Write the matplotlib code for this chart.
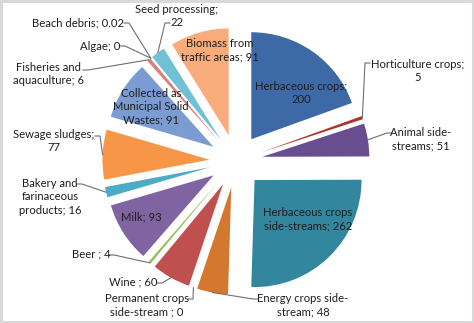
import numpy as np
import matplotlib
matplotlib.use("Agg")
import matplotlib.pyplot as plt
from matplotlib.patches import Rectangle

plt.rcParams['font.family'] = ['Lato', 'DejaVu Sans']

# ---------------------------
# DATA (clockwise from 12 o'clock)
# ---------------------------
sources = [
    "Herbaceous crops", "Horticulture crops", "Animal side-streams",
    "Herbaceous crops side-streams", "Energy crops side-stream",
    "Permanent crops side-stream", "Wine", "Beer", "Milk",
    "Bakery and farinaceous products", "Sewage sludges",
    "Collected as Municipal Solid Wastes", "Fisheries and aquaculture",
    "Algae", "Beach debris", "Seed processing", "Biomass from traffic areas",
]
amounts = [200, 5, 51, 262, 48, 0, 60, 4, 93, 16, 77, 91, 6, 0, 0.02, 22, 91]
labels = [
    "Herbaceous crops;\n200", "Horticulture crops;\n5", "Animal side-\nstreams; 51",
    "Herbaceous crops\nside-streams; 262", "Energy crops side-\nstream; 48",
    "Permanent crops\nside-stream ; 0", "Wine ; 60", "Beer ; 4", "Milk; 93",
    "Bakery and\nfarinaceous\nproducts; 16", "Sewage sludges;\n77",
    "Collected as\nMunicipal Solid\nWastes; 91", "Fisheries and\naquaculture; 6",
    "Algae; 0", "Beach debris; 0.02", "Seed processing;\n22",
    "Biomass from\ntraffic areas; 91",
]
colors = [
    "#3d6aa7", "#b0322e", "#684e8e", "#32869e", "#d4782f", "#4f81bd",
    "#c0504d", "#9bbb59", "#8064a2", "#4bacc6", "#f79646", "#7b9cd2",
    "#d7827e", "#b9d08a", "#a996c4", "#70c0d6", "#f9ac7b",
]

# ---------------------------
# LAYOUT (pixel coords, y from top)
# ---------------------------
W, H = 474, 323
pie_center = (236, 161)
pie_radius = 107
explode_dist = 26.6   # pie() takes explode in data units

# label centre, leader start (None = label inside slice)
label_pos = [
    (301, 93, None), (418, 71, (370, 63)), (421, 139, (392, 133)),
    (308, 219, None), (303, 305, (258, 299)), (147, 305, (188, 299)),
    (133, 282, (157, 283)), (91, 254, (109, 255)), (141, 217, None),
    (50, 197, (77, 184)), (54, 141, (95, 136)), (151, 107, None),
    (49, 74, (83, 70)), (100, 46, (120, 46)), (78, 23, (124, 23)),
    (177, 16, (170, 23)), (220, 50, None),
]


def to_data(x, y):
    return x, H - y


fig = plt.figure(figsize=(W / 100, H / 100), dpi=100)
ax = fig.add_axes([0, 0, 1, 1])

wedges, _ = ax.pie(
    amounts,
    explode=[explode_dist] * len(amounts),
    colors=colors,
    startangle=90,
    counterclock=False,
    radius=pie_radius,
    center=to_data(*pie_center),
    wedgeprops=dict(linewidth=0),
)

ax.set_xlim(0, W)
ax.set_ylim(0, H)
ax.axis('off')

for w, lab, (lx, ly, lead) in zip(wedges, labels, label_pos):
    ax.text(*to_data(lx, ly), lab, ha='center', va='center',
            fontsize=8.1, color='#1e1e1e', linespacing=1.25)
    if lead is None:
        continue
    mid = np.deg2rad((w.theta1 + w.theta2) / 2)
    cx, cy = w.center
    ex = cx + w.r * np.cos(mid)
    ey = cy + w.r * np.sin(mid)
    sx, sy = to_data(*lead)
    step = 5 if ex > sx else -5
    ax.plot([sx, sx + step, ex], [sy, sy, ey], color='#6e6e6e', lw=0.8)

# chart area border
fig.patches.append(Rectangle((0.003, 0.004), 0.994, 0.992, transform=fig.transFigure,
                             fill=False, edgecolor='#d9d9d9', linewidth=2.2))

fig.savefig('out.png', dpi=100, facecolor='white')
